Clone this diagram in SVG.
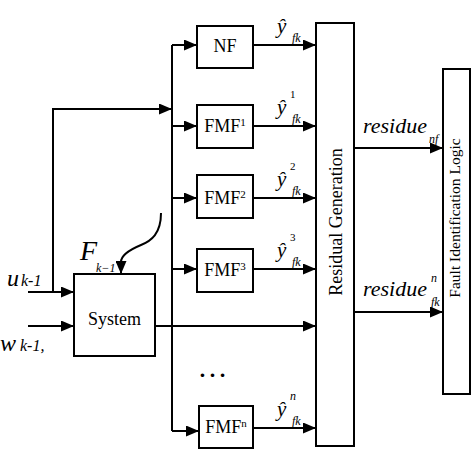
<svg xmlns="http://www.w3.org/2000/svg" width="474" height="450" viewBox="0 0 474 450">
<style>
text{font-family:"Liberation Serif","Times New Roman","DejaVu Serif",serif;fill:#000}
.box{fill:#fff;stroke:#000;stroke-width:2}
.ln{fill:none;stroke:#000;stroke-width:2}
.lbl{font-size:18px;text-anchor:middle}
.it{font-style:italic}
.sup{font-size:11px}
.sm{font-size:12px;font-style:italic}
</style>
<defs>
<marker id="ah" markerUnits="userSpaceOnUse" markerWidth="13" markerHeight="11" refX="13" refY="5.5" orient="auto">
<path d="M0,0 L13,5.5 L0,11 z" fill="#000"/>
</marker>
</defs>
<rect width="474" height="450" fill="#fff"/>
<g id="connectors">
<path class="ln" d="M28,292 H74" marker-end="url(#ah)"/>
<path class="ln" d="M28,326 H74" marker-end="url(#ah)"/>
<path class="ln" d="M53,292 V109 H172" marker-end="url(#ah)"/>
<path class="ln" d="M172,45 V431"/>
<path class="ln" d="M172,45 H197" marker-end="url(#ah)"/>
<path class="ln" d="M172,126 H197" marker-end="url(#ah)"/>
<path class="ln" d="M172,198 H197" marker-end="url(#ah)"/>
<path class="ln" d="M172,269 H197" marker-end="url(#ah)"/>
<path class="ln" d="M172,431 H199" marker-end="url(#ah)"/>
<path class="ln" d="M155,326 H316" marker-end="url(#ah)"/>
<path class="ln" d="M253,45 H316" marker-end="url(#ah)"/>
<path class="ln" d="M253,126 H316" marker-end="url(#ah)"/>
<path class="ln" d="M253,198 H316" marker-end="url(#ah)"/>
<path class="ln" d="M253,269 H316" marker-end="url(#ah)"/>
<path class="ln" d="M253,428 H316" marker-end="url(#ah)"/>
<path class="ln" d="M354,148 H443" marker-end="url(#ah)"/>
<path class="ln" d="M354,312 H443" marker-end="url(#ah)"/>
<path class="ln" d="M161,213 C161,234 151,241 141,245 C129,250 121,256 121,262 V274" marker-end="url(#ah)"/>
</g>
<g id="labels">
<text x="7" y="286" class="it" font-size="24">u</text><text x="21" y="286" class="it" font-size="16">k-1</text>
<text x="0" y="351" class="it" font-size="24">w</text><text x="20" y="351" class="it" font-size="16">k-1,</text>
<text x="80" y="260" class="it" font-size="28">F</text><text x="96" y="272" class="it" font-size="12">k−1</text>
<text x="277" y="33" class="it" font-size="21">ŷ</text><text x="292" y="42" class="sm">fk</text>
<text x="277" y="114" class="it" font-size="21">ŷ</text><text x="290" y="98" class="sup">1</text><text x="292" y="123" class="sm">fk</text>
<text x="277" y="186" class="it" font-size="21">ŷ</text><text x="290" y="170" class="sup">2</text><text x="292" y="195" class="sm">fk</text>
<text x="277" y="257" class="it" font-size="21">ŷ</text><text x="290" y="241" class="sup">3</text><text x="292" y="266" class="sm">fk</text>
<text x="277" y="416" class="it" font-size="21">ŷ</text><text x="290" y="400" class="sm">n</text><text x="292" y="425" class="sm">fk</text>
<text x="363" y="133" class="it" font-size="22">residue</text><text x="429" y="143" class="sm">nf</text>
<text x="363" y="296" class="it" font-size="22">residue</text><text x="431" y="282" class="sm">n</text><text x="431" y="306" class="sm">fk</text>
<text x="197.5" y="377" font-size="30">…</text>
</g>
<g id="system"><rect class="box" x="74" y="274" width="81" height="82"/><text class="lbl" x="114.5" y="325">System</text></g>
<g id="nf"><rect class="box" x="197" y="26" width="56" height="42"/><text class="lbl" x="225" y="52">NF</text></g>
<g id="fmf1"><rect class="box" x="197" y="105" width="56" height="43"/><text class="lbl" x="225" y="132">FMF<tspan class="sup" dy="-6">1</tspan></text></g>
<g id="fmf2"><rect class="box" x="197" y="175" width="56" height="43"/><text class="lbl" x="225" y="204">FMF<tspan class="sup" dy="-6">2</tspan></text></g>
<g id="fmf3"><rect class="box" x="197" y="249" width="56" height="43"/><text class="lbl" x="225" y="276">FMF<tspan class="sup" dy="-6">3</tspan></text></g>
<g id="fmfn"><rect class="box" x="199" y="406" width="54" height="42"/><text class="lbl" x="226" y="433">FMF<tspan class="sup" dy="-6">n</tspan></text></g>
<g id="residual"><rect class="box" x="316" y="23" width="38" height="423"/><text font-size="18" text-anchor="middle" transform="translate(342,222) rotate(-90)">Residual Generation</text></g>
<g id="fault"><rect class="box" x="443" y="69" width="27" height="325"/><text font-size="15.5" text-anchor="middle" transform="translate(460,218) rotate(-90)">Fault Identification Logic</text></g>
</svg>
